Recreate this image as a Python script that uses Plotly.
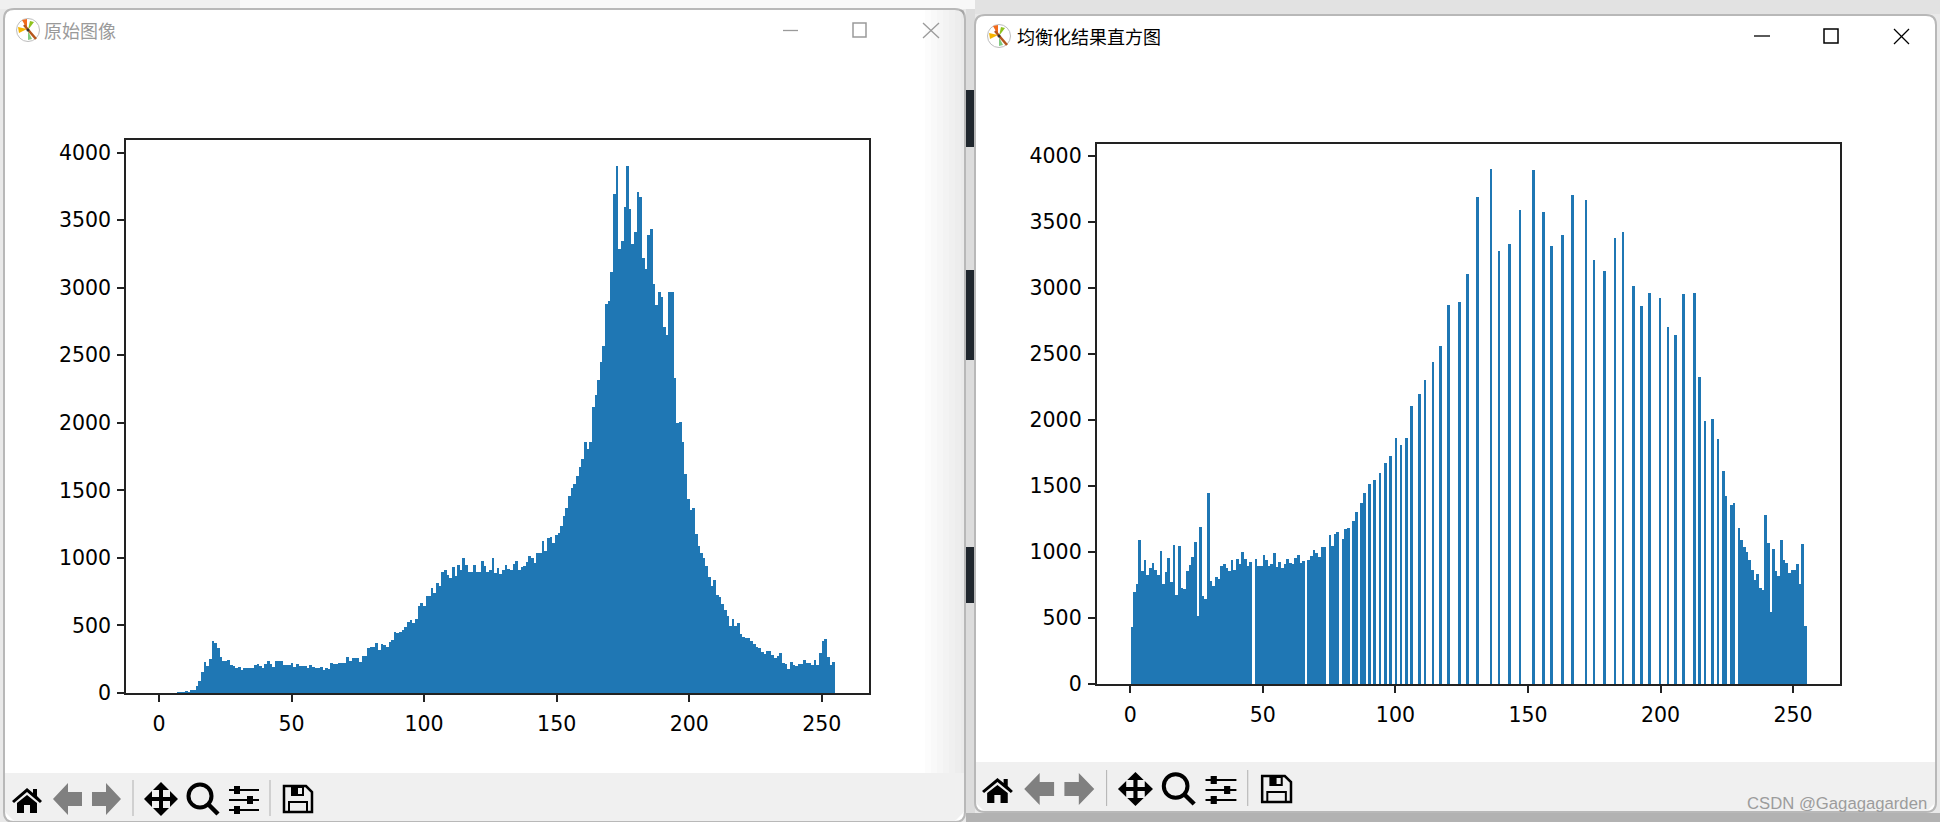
import plotly.graph_objects as go

W, H = 1940, 822
BAR = "#1f77b4"

original_counts = [
    0, 0, 0, 0, 0, 0, 0, 4, 5, 10, 20, 12, 27, 27, 57, 94,
    160, 235, 205, 257, 390, 375, 338, 272, 242, 242, 249, 212, 205, 190, 198, 175,
    190, 190, 190, 190, 212, 220, 205, 190, 220, 242, 220, 198, 242, 242, 242, 212,
    212, 212, 227, 198, 220, 205, 205, 205, 190, 212, 198, 190, 190, 198, 175, 190,
    183, 227, 220, 220, 227, 227, 227, 272, 242, 264, 264, 264, 235, 279, 279, 338,
    346, 346, 375, 323, 368, 360, 346, 383, 397, 457, 449, 457, 472, 494, 531, 546,
    523, 553, 650, 672, 650, 723, 723, 783, 746, 820, 798, 901, 916, 879, 857, 938,
    872, 953, 916, 1005, 953, 901, 901, 953, 901, 901, 981, 945, 901, 916, 998, 894,
    931, 886, 916, 953, 923, 916, 960, 983, 916, 938, 946, 975, 1020, 998, 968, 1042,
    1042, 1131, 1057, 1146, 1160, 1109, 1175, 1190, 1242, 1309, 1375, 1457, 1523, 1546, 1605, 1679,
    1731, 1864, 1812, 1864, 2116, 2205, 2316, 2449, 2568, 2879, 2901, 3116, 3694, 3900, 3286, 3346,
    3598, 3900, 3583, 3323, 3412, 3709, 3672, 3220, 3138, 3390, 3435, 3027, 2872, 2968, 2931, 2709,
    2649, 2968, 2968, 2331, 1998, 2012, 1857, 1620, 1435, 1360, 1375, 1183, 1094, 1042, 1005, 946,
    864, 798, 842, 731, 716, 664, 620, 575, 501, 553, 501, 523, 442, 420, 412, 412,
    390, 368, 346, 338, 309, 294, 316, 316, 286, 264, 279, 301, 227, 220, 183, 235,
    212, 205, 220, 220, 249, 227, 227, 212, 249, 212, 301, 390, 405, 272, 212, 235,
]

equalized_counts = [
    436, 700, 761, 1094, 859, 943, 829, 882, 920, 867, 829, 1011, 761, 852, 958, 776,
    1056, 678, 1048, 731, 723, 859, 905, 965, 1079, 519, 1192, 670, 648, 1449, 784, 746,
    814, 799, 897, 912, 882, 859, 943, 867, 950, 912, 1003, 950, 897, 927, 0, 950,
    897, 897, 980, 943, 897, 912, 996, 890, 927, 882, 912, 950, 920, 912, 958, 980,
    920, 935, 0, 943, 973, 1018, 996, 965, 1041, 1041, 0, 1132, 1048, 1139, 1154, 0,
    1101, 1177, 1185, 0, 1238, 1306, 0, 1374, 1449, 0, 1517, 0, 1548, 0, 1600, 0,
    1676, 0, 1731, 0, 1864, 0, 1812, 0, 1865, 0, 2107, 0, 0, 2198, 0, 2304,
    0, 0, 2440, 0, 0, 2561, 0, 0, 2871, 0, 0, 0, 2893, 0, 0, 3105,
    0, 0, 0, 3687, 0, 0, 0, 0, 3899, 0, 0, 3279, 0, 0, 0, 3332,
    0, 0, 0, 3589, 0, 0, 0, 0, 3892, 0, 0, 0, 3574, 0, 0, 3317,
    0, 0, 0, 3400, 0, 0, 0, 3703, 0, 0, 0, 0, 3665, 0, 0, 3211,
    0, 0, 0, 3128, 0, 0, 0, 3377, 0, 0, 3423, 0, 0, 0, 3014, 0,
    0, 2863, 0, 0, 2961, 0, 0, 0, 2924, 0, 0, 2704, 0, 0, 2644, 0,
    0, 2954, 0, 0, 0, 2961, 0, 2326, 0, 1994, 0, 0, 2009, 0, 1857, 0,
    1616, 1427, 0, 1359, 1374, 0, 1185, 1094, 1041, 1003, 943, 867, 791, 837, 731, 716,
    1283, 1071, 549, 1026, 859, 822, 1094, 943, 920, 844, 867, 867, 912, 761, 1064, 444,
]
assert len(original_counts) == 256 and len(equalized_counts) == 256

bin_width = 255 / 256
bin_centres = [(i + 0.5) * bin_width for i in range(256)]
x_ticks = [0, 50, 100, 150, 200, 250]
y_ticks = [0, 500, 1000, 1500, 2000, 2500, 3000, 3500, 4000]
title_left = "原始图像"
title_right = "均衡化结果直方图"
watermark = "CSDN @Gagagagarden"


def X(x):
    return x / W


def Y(y):
    return 1 - y / H


def poly(points, close=True):
    body = " L ".join(f"{X(a):.5f},{Y(b):.5f}" for a, b in points)
    return "M " + body + (" Z" if close else "")


shapes = []


def rect(x0, y0, x1, y1, fill, line=None, lw=0):
    shapes.append(dict(type="rect", xref="paper", yref="paper", x0=X(x0), x1=X(x1),
                       y0=Y(y1), y1=Y(y0), fillcolor=fill, layer="below",
                       line=dict(color=line or fill, width=lw)))


def line(x0, y0, x1, y1, color, lw):
    shapes.append(dict(type="line", xref="paper", yref="paper", x0=X(x0), x1=X(x1),
                       y0=Y(y0), y1=Y(y1), layer="below", line=dict(color=color, width=lw)))


def polygon(points, fill, line_color=None, lw=0):
    shapes.append(dict(type="path", xref="paper", yref="paper", path=poly(points),
                       fillcolor=fill, layer="below", line=dict(color=line_color or fill, width=lw)))


def circle(cx, cy, r, fill, color, lw):
    shapes.append(dict(type="circle", xref="paper", yref="paper", x0=X(cx - r), x1=X(cx + r),
                       y0=Y(cy + r), y1=Y(cy - r), fillcolor=fill, layer="below",
                       line=dict(color=color, width=lw)))


def window(x0, y0, x1, y1, r=10):
    pts = (f"M {X(x0 + r):.5f},{Y(y0):.5f} L {X(x1 - r):.5f},{Y(y0):.5f} "
           f"Q {X(x1):.5f},{Y(y0):.5f} {X(x1):.5f},{Y(y0 + r):.5f} "
           f"L {X(x1):.5f},{Y(y1 - r):.5f} Q {X(x1):.5f},{Y(y1):.5f} {X(x1 - r):.5f},{Y(y1):.5f} "
           f"L {X(x0 + r):.5f},{Y(y1):.5f} Q {X(x0):.5f},{Y(y1):.5f} {X(x0):.5f},{Y(y1 - r):.5f} "
           f"L {X(x0):.5f},{Y(y0 + r):.5f} Q {X(x0):.5f},{Y(y0):.5f} {X(x0 + r):.5f},{Y(y0):.5f} Z")
    shapes.append(dict(type="path", xref="paper", yref="paper", path=pts, fillcolor="white",
                       layer="below", line=dict(color="#b8b8b8", width=2)))


def logo(cx, cy):
    circle(cx, cy, 11.5, "white", "#bdbdbd", 1)
    polygon([(cx - 1, cy - 1), (cx - 6, cy - 10), (cx - 1, cy - 11)], "#f26a1b")
    polygon([(cx - 1, cy - 1), (cx - 10, cy - 3), (cx - 9, cy + 3)], "#f5b400")
    polygon([(cx, cy), (cx + 6, cy - 8), (cx + 2, cy - 9)], "#8fc31f")
    polygon([(cx, cy + 1), (cx, cy + 10), (cx + 4, cy + 9)], "#7fc97f")
    line(cx - 4, cy - 5, cx + 8, cy + 9, "#b5561c", 2.5)
    circle(cx, cy, 1.5, "#333333", "#333333", 0)


def window_buttons(mx0, mx1, my, sx0, sx1, sy0, sy1, cx0, cx1, cy0, cy1, color):
    line(mx0, my, mx1, my, color, 1.3)
    rect(sx0, sy0, sx1, sy1, "rgba(0,0,0,0)", color, 1.5)
    line(cx0, cy0, cx1, cy1, color, 1.3)
    line(cx0, cy1, cx1, cy0, color, 1.3)


def toolbar(ox, oy, s):
    def px(x):
        return ox + (x - 12) * s

    def py(y):
        return oy + (y - 788)

    def pts(seq):
        return [(px(a), py(b)) for a, b in seq]

    ink = "#000000"
    polygon(pts([(12, 801), (27, 788), (33, 793), (33, 789), (37, 789), (37, 796), (42, 801), (40, 803),
                 (27, 792), (14, 803)]), ink)
    polygon(pts([(17, 803), (27, 795), (37, 803), (37, 813), (30, 813), (30, 805), (24, 805), (24, 813),
                 (17, 813)]), ink)
    polygon(pts([(53, 799), (68, 783), (68, 792), (82, 792), (82, 806), (68, 806), (68, 815)]), "#808080")
    polygon(pts([(121, 799), (106, 783), (106, 792), (92, 792), (92, 806), (106, 806), (106, 815)]), "#808080")
    line(px(133), py(780), px(133), py(816), "#b0b0b0", 1)
    polygon(pts([(144, 799), (152, 791), (152, 797), (159, 797), (159, 790), (153, 790), (161, 782),
                 (169, 790), (163, 790), (163, 797), (170, 797), (170, 791), (178, 799), (170, 807),
                 (170, 801), (163, 801), (163, 808), (169, 808), (161, 816), (153, 808), (159, 808),
                 (159, 801), (152, 801), (152, 807)]), ink)
    circle(px(200), py(796), 11.5 * s, "rgba(0,0,0,0)", ink, 4)
    line(px(208), py(804), px(218), py(814), ink, 4.5)
    for yy, kx in ((790, 237), (800, 250), (810, 237)):
        line(px(229), py(yy), px(259), py(yy), ink, 2)
        rect(px(kx - 3), py(yy - 4), px(kx + 3), py(yy + 4), ink)
    line(px(270), py(780), px(270), py(816), "#b0b0b0", 1)
    polygon(pts([(284, 786), (306, 786), (312, 792), (312, 812), (284, 812)]), "rgba(0,0,0,0)", ink, 2.5)
    rect(px(291), py(786), px(304), py(796), ink)
    rect(px(298), py(788), px(302), py(794), "#f0f0f0")
    rect(px(289), py(802), px(307), py(812), "rgba(0,0,0,0)", ink, 2)


rect(0, 0, W, H, "#e9e9e9")
rect(0, 0, 240, 9, "#f0f0f0")
rect(240, 0, W, 9, "#f8f8f8")
rect(966, 9, 975, H, "#dcdcdc")
rect(966, 90, 975, 147, "#20272e")
rect(966, 270, 975, 360, "#20272e")
rect(966, 547, 975, 603, "#20272e")
rect(975, 0, W, 14, "#e2e2e2")
rect(966, 813, W, H, "#b2b2b2")

# left window
window(4, 9, 965, 822)
for k in range(7):
    rect(925 + k * 6, 10, 964, 773, "rgba(0,0,0,0.010)")
polygon([(5, 773), (964, 773), (964, 812), (955, 821), (14, 821), (5, 812)], "#f0f0f0")
logo(28, 30)
window_buttons(783, 798, 30.5, 853, 866, 23, 37, 923, 939, 23, 38, "#9a9a9a")
toolbar(12, 788, 1.0)

# right window
window(975, 15, 1936, 812)
polygon([(976, 762), (1935, 762), (1935, 803), (1927, 811), (984, 811), (976, 803)], "#f0f0f0")
logo(999, 36)
window_buttons(1754, 1770, 36, 1824, 1838, 29, 43, 1894, 1909, 29, 44, "#000000")
toolbar(982, 778, 1.03)

fig = go.Figure()
fig.add_trace(go.Bar(x=bin_centres, y=original_counts, width=bin_width, marker=dict(color=BAR, line=dict(width=0)),
                     xaxis="x", yaxis="y", showlegend=False))
fig.add_trace(go.Bar(x=bin_centres, y=equalized_counts, width=bin_width, marker=dict(color=BAR, line=dict(width=0)),
                     xaxis="x2", yaxis="y2", showlegend=False))

base_axis = dict(showgrid=False, zeroline=False, showline=True, mirror=True, linecolor="#222222", linewidth=2,
                 ticks="outside", ticklen=7, tickwidth=2, tickcolor="#222222",
                 tickfont=dict(family="DejaVu Sans", size=20.5, color="#000000"))
x_style = dict(base_axis, ticklabelstandoff=4)
y_style = dict(base_axis, ticklabelstandoff=2)


def annotate(text, x, y, size, color, anchor="left", family="Noto Sans CJK SC"):
    return dict(text=text, xref="paper", yref="paper", x=X(x), y=Y(y), xanchor=anchor, yanchor="middle",
                showarrow=False, font=dict(family=family, size=size, color=color))


fig.update_layout(
    width=W, height=H, margin=dict(l=0, r=0, t=0, b=0, pad=0, autoexpand=False), autosize=False,
    paper_bgcolor="#ffffff", plot_bgcolor="rgba(0,0,0,0)", bargap=0, barmode="overlay",
    showlegend=False, shapes=shapes,
    xaxis=dict(domain=[X(126.2), X(868.6)], range=[-12.37, 267.67], tickvals=x_ticks, anchor="y", **x_style),
    yaxis=dict(domain=[Y(693), Y(139.7)], range=[0, 4096], tickvals=y_ticks, anchor="x", **y_style),
    xaxis2=dict(domain=[X(1096.8), X(1839.6)], range=[-12.64, 267.56], tickvals=x_ticks, anchor="y2", **x_style),
    yaxis2=dict(domain=[Y(684), Y(143.7)], range=[0, 4091], tickvals=y_ticks, anchor="x2", **y_style),
    annotations=[
        annotate(title_left, 42, 30.5, 18, "#9a9a9a"),
        annotate(title_right, 1014.5, 36, 18, "#000000"),
        annotate(watermark, 1745, 803, 16.7, "#9c9c9c", family="Liberation Sans"),
    ],
)

fig.write_html("out.html", config=dict(displayModeBar=False),
               post_script="document.body.style.margin='0';document.body.style.overflow='hidden';")
